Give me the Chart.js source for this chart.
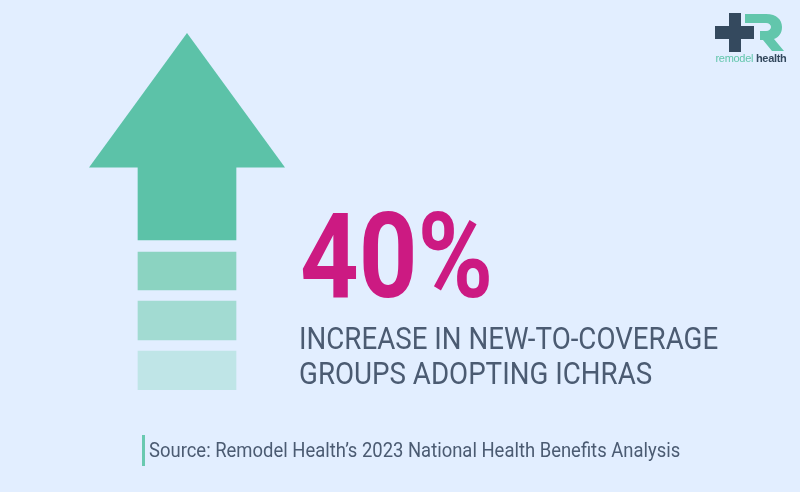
<!DOCTYPE html>
<html><head><meta charset="utf-8">
<script src="https://cdn.jsdelivr.net/npm/chart.js@4"></script>
<style>
html,body{margin:0;padding:0;width:800px;height:492px;overflow:hidden;background:#e2eeff;font-family:Roboto,sans-serif}
#wrap{position:absolute;left:0;top:0;width:800px;height:492px}
.t{position:absolute;white-space:nowrap;transform-origin:0 0;line-height:1}
#big{left:300px;top:198px;font-size:118px;font-weight:700;color:#cc1a82;transform:scaleX(.868)}
#l1{left:299px;top:323px;font-size:31px;color:#4b5b72;transform:scaleX(.894)}
#l2{left:299px;top:358px;font-size:31px;color:#4b5b72;transform:scaleX(.894)}
#src{left:149px;top:440px;font-size:20px;color:#4b5b72;transform:scaleX(.922)}
#rule{position:absolute;left:142px;top:435px;width:3px;height:31px;background:#69c9b0}
#logo{position:absolute;left:710px;top:8px}
</style></head><body>
<div id="wrap"><canvas id="c" width="800" height="492"></canvas></div>
<div class="t" id="big">40%</div>
<div class="t" id="l1">INCREASE IN NEW-TO-COVERAGE</div>
<div class="t" id="l2">GROUPS ADOPTING ICHRAS</div>
<div id="rule"></div>
<div class="t" id="src">Source: Remodel Health’s 2023 National Health Benefits Analysis</div>
<svg id="logo" width="85" height="60" viewBox="710 8 85 60">
<path d="M729 13h12v13h13v13h-13v13h-12v-13h-14v-13h14z" fill="#34495e"/>
<path d="M745 14h21c11 0 16 6 16 13 0 6-3 10-8 12l10 12h-12l-9-11h-3v-9h6c3 0 5-2 5-4s-2-4-5-4h-21z" fill="#62c6ac"/>
<text x="715.5" y="62" font-family="Liberation Sans" font-size="11" letter-spacing="-.3" fill="#62c6ac">remodel <tspan fill="#34495e" font-weight="700">health</tspan></text>
</svg>
<script>
const segmentStart = [0, 50, 100, 150];
const segmentEnd = [39, 89, 138, 223];
const segmentColors = ['#bfe5e7', '#a2dbd2', '#8bd3c1', '#5cc2a8'];
const headSideways = [-1, 0, 1];
const headHeight = [222.5, 357, 222.5];

new Chart(document.getElementById('c'), {
  data: {
    datasets: [
      {
        type: 'bar',
        data: segmentStart.map((s, i) => ({ x: 0, y: [s, segmentEnd[i]] })),
        backgroundColor: segmentColors,
        barThickness: 98,
        borderWidth: 0
      },
      {
        type: 'line',
        data: headSideways.map((x, i) => ({ x, y: headHeight[i] })),
        borderWidth: 0,
        pointRadius: 0,
        tension: 0,
        backgroundColor: '#5cc2a8',
        fill: { value: 222.5 }
      }
    ]
  },
  options: {
    responsive: false,
    animation: false,
    layout: { padding: { left: 89, right: 515, top: 33, bottom: 102 } },
    plugins: { legend: { display: false }, tooltip: { enabled: false } },
    scales: {
      x: { type: 'linear', min: -1, max: 1, display: false, offset: false },
      y: { min: 0, max: 357, display: false }
    }
  }
});
</script>
</body></html>
